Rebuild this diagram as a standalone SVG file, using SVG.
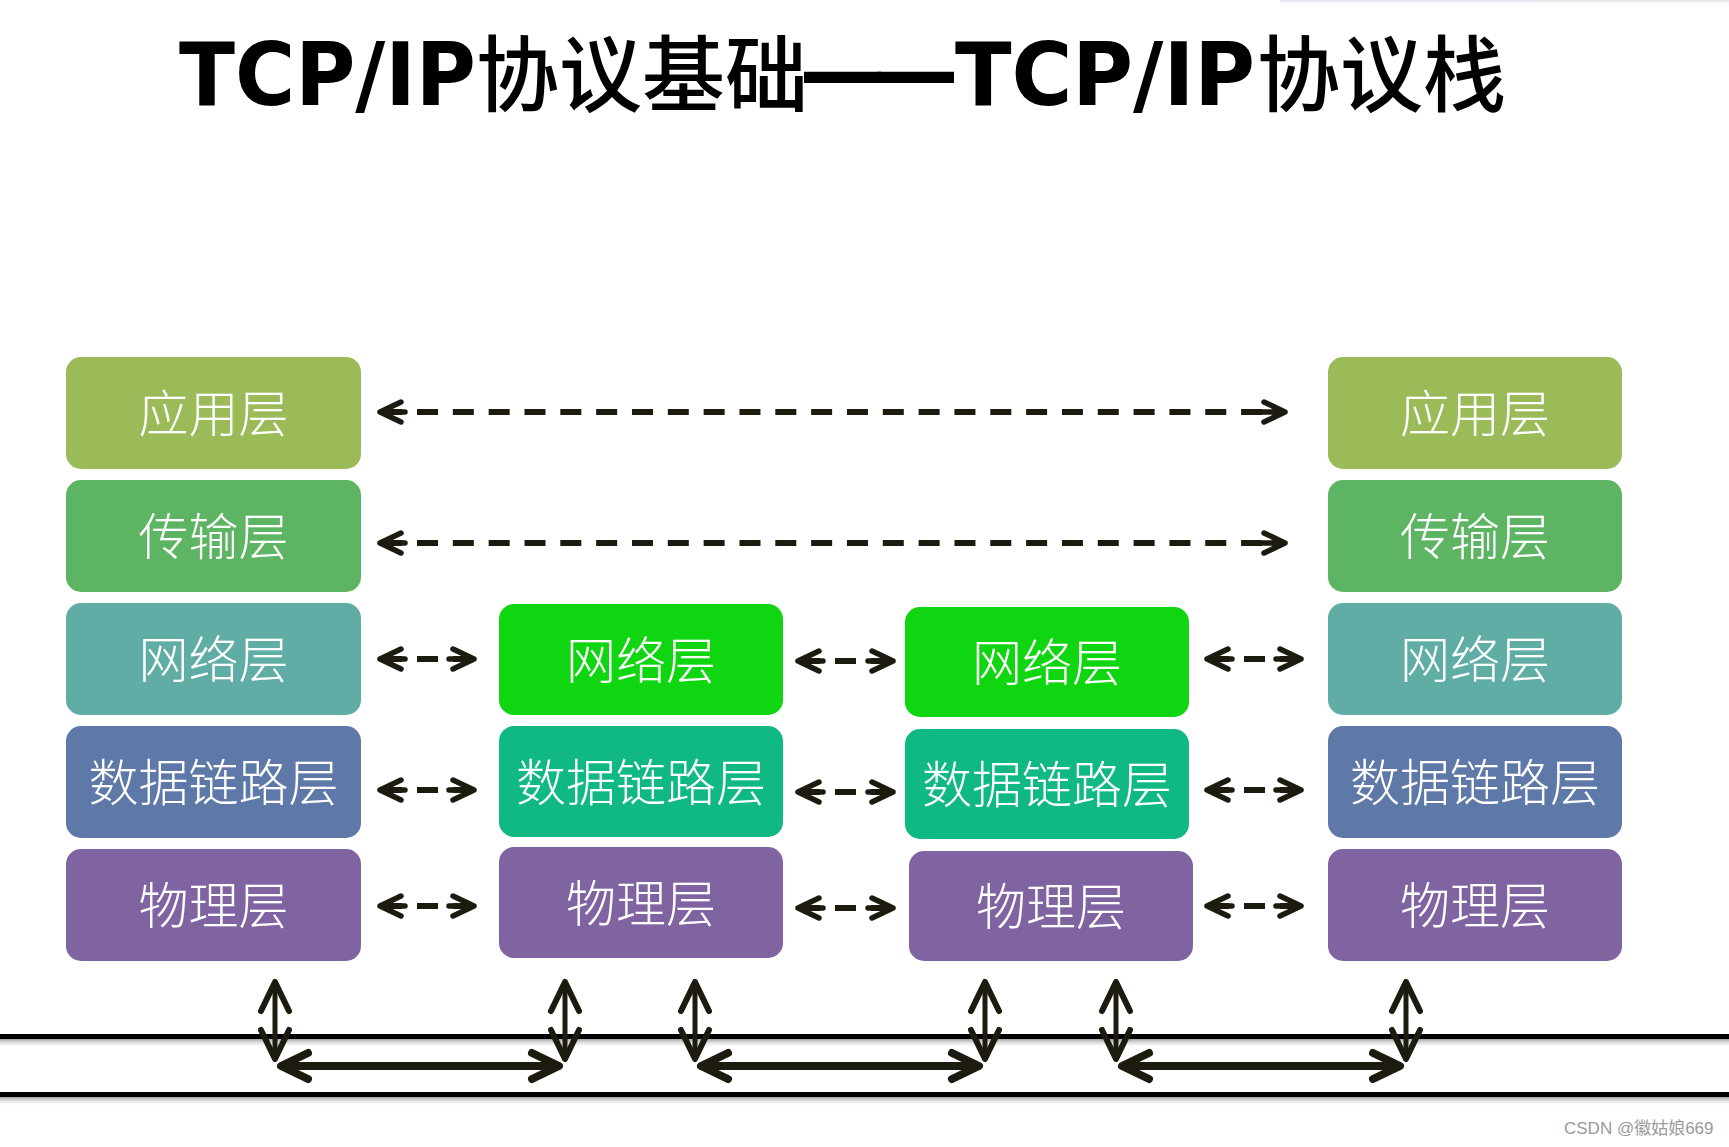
<svg xmlns="http://www.w3.org/2000/svg" width="1729" height="1147" viewBox="0 0 1729 1147">
<style>
  .box { stroke: none; }
  .lbl { fill: #ffffff; font-family: "Noto Sans CJK SC", "Noto Sans", sans-serif; font-size: 50px; font-weight: 300; text-anchor: middle; }
  .lat { font-family: "DejaVu Sans", "Liberation Sans", Verdana, sans-serif; font-weight: bold; font-size: 87px; fill: #000; }
  .cjk { font-family: "Noto Sans CJK SC", sans-serif; font-weight: 500; font-size: 83px; fill: #000; }
  .emd { font-family: "Liberation Sans", Arial, sans-serif; font-weight: bold; font-size: 73px; fill: #000; stroke: #000; stroke-width: 4; }
  .dash { stroke: #1d1a10; stroke-width: 6; fill: none; stroke-dasharray: 21 15; stroke-dashoffset: 35; marker-start: url(#chev); marker-end: url(#chev); }
  .dash.long { stroke-dasharray: 21 14.83; stroke-dashoffset: 34.66; }
  .vert { stroke: #1d1a10; stroke-width: 5; fill: none; marker-start: url(#chevV); marker-end: url(#chevV); }
  .horz { stroke: #1d1a10; stroke-width: 8; fill: none; marker-start: url(#chevH); marker-end: url(#chevH); }
  .bus { stroke: #000000; stroke-width: 5; }
  .wm { fill: #9a9a9a; font-family: "Liberation Sans", Arial, "Noto Sans CJK SC", sans-serif; font-size: 17px; }
</style>
<defs>
  <marker id="chev" markerUnits="userSpaceOnUse" markerWidth="40" markerHeight="30" refX="0" refY="0" orient="auto-start-reverse" overflow="visible">
    <path d="M-21,-10 L0,0 L-21,10 M0,0 H-25" fill="none" stroke="#1d1a10" stroke-width="5.5" stroke-linecap="round" stroke-linejoin="round"/>
  </marker>
  <marker id="chevV" markerUnits="userSpaceOnUse" markerWidth="40" markerHeight="40" refX="0" refY="0" orient="auto-start-reverse" overflow="visible">
    <path d="M-29,-14 L0,0 L-29,14" fill="none" stroke="#1d1a10" stroke-width="6" stroke-linecap="round" stroke-linejoin="round"/>
  </marker>
  <marker id="chevH" markerUnits="userSpaceOnUse" markerWidth="40" markerHeight="40" refX="0" refY="0" orient="auto-start-reverse" overflow="visible">
    <path d="M-27,-13 L0,0 L-27,13" fill="none" stroke="#1d1a10" stroke-width="8" stroke-linecap="round" stroke-linejoin="round"/>
  </marker>
  <linearGradient id="shadow" x1="0" y1="0" x2="0" y2="1">
    <stop offset="0" stop-color="#8a8a8a" stop-opacity="0.8"/>
    <stop offset="1" stop-color="#ffffff" stop-opacity="0"/>
  </linearGradient>
  <linearGradient id="topbar" x1="0" y1="0" x2="0" y2="1">
    <stop offset="0" stop-color="#dfe3ea" stop-opacity="1"/>
    <stop offset="1" stop-color="#ffffff" stop-opacity="0"/>
  </linearGradient>
</defs>

<rect x="0" y="0" width="1729" height="1147" fill="#ffffff"/>
<rect x="1280" y="0" width="449" height="6" fill="url(#topbar)"/>

<g id="title">
  <text class="lat" x="179" y="105" textLength="297" lengthAdjust="spacingAndGlyphs">TCP/IP</text>
  <text class="cjk" x="476" y="105">协议基础</text>
  <text class="emd" x="806" y="97">——</text>
  <text class="lat" x="955" y="105" textLength="300" lengthAdjust="spacingAndGlyphs">TCP/IP</text>
  <text class="cjk" x="1257" y="105">协议栈</text>
</g>

<!-- Column 1 -->
<g id="c1-app"><rect class="box" x="66" y="357" width="295" height="112" rx="15" fill="#9BBB59"/><text class="lbl" x="213.5" y="432">应用层</text></g>
<g id="c1-trans"><rect class="box" x="66" y="480" width="295" height="112" rx="15" fill="#5DB462"/><text class="lbl" x="213.5" y="555">传输层</text></g>
<g id="c1-net"><rect class="box" x="66" y="603" width="295" height="112" rx="15" fill="#5FADA5"/><text class="lbl" x="213.5" y="678">网络层</text></g>
<g id="c1-link"><rect class="box" x="66" y="726" width="295" height="112" rx="15" fill="#5E78A8"/><text class="lbl" x="213.5" y="801">数据链路层</text></g>
<g id="c1-phy"><rect class="box" x="66" y="849" width="295" height="112" rx="15" fill="#8064A2"/><text class="lbl" x="213.5" y="924">物理层</text></g>

<!-- Column 2 -->
<g id="c2-net"><rect class="box" x="499" y="604" width="284" height="111" rx="15" fill="#10D511"/><text class="lbl" x="641" y="678.5">网络层</text></g>
<g id="c2-link"><rect class="box" x="499" y="726" width="284" height="111" rx="15" fill="#10B983"/><text class="lbl" x="641" y="800.5">数据链路层</text></g>
<g id="c2-phy"><rect class="box" x="499" y="847" width="284" height="111" rx="15" fill="#8064A2"/><text class="lbl" x="641" y="921.5">物理层</text></g>

<!-- Column 3 -->
<g id="c3-net"><rect class="box" x="905" y="607" width="284" height="110" rx="15" fill="#10D511"/><text class="lbl" x="1047" y="681">网络层</text></g>
<g id="c3-link"><rect class="box" x="905" y="729" width="284" height="110" rx="15" fill="#10B983"/><text class="lbl" x="1047" y="803">数据链路层</text></g>
<g id="c3-phy"><rect class="box" x="909" y="851" width="284" height="110" rx="15" fill="#8064A2"/><text class="lbl" x="1051" y="925">物理层</text></g>

<!-- Column 4 -->
<g id="c4-app"><rect class="box" x="1328" y="357" width="294" height="112" rx="15" fill="#9BBB59"/><text class="lbl" x="1475" y="432">应用层</text></g>
<g id="c4-trans"><rect class="box" x="1328" y="480" width="294" height="112" rx="15" fill="#5DB462"/><text class="lbl" x="1475" y="555">传输层</text></g>
<g id="c4-net"><rect class="box" x="1328" y="603" width="294" height="112" rx="15" fill="#5FADA5"/><text class="lbl" x="1475" y="678">网络层</text></g>
<g id="c4-link"><rect class="box" x="1328" y="726" width="294" height="112" rx="15" fill="#5E78A8"/><text class="lbl" x="1475" y="801">数据链路层</text></g>
<g id="c4-phy"><rect class="box" x="1328" y="849" width="294" height="112" rx="15" fill="#8064A2"/><text class="lbl" x="1475" y="924">物理层</text></g>

<!-- Bus lines -->
<g id="bus">
  <rect x="0" y="1039" width="1729" height="9" fill="url(#shadow)"/>
  <rect x="0" y="1097" width="1729" height="9" fill="url(#shadow)"/>
  <line class="bus" x1="0" y1="1036.5" x2="1729" y2="1036.5"/>
  <line class="bus" x1="0" y1="1094.5" x2="1729" y2="1094.5"/>
</g>

<g id="connectors">
  <!-- peer dashed arrows -->
  <line class="dash long" x1="380" y1="412" x2="1285" y2="412"/>
  <line class="dash long" x1="380" y1="543" x2="1285" y2="543"/>

  <line class="dash" x1="380" y1="659" x2="474" y2="659"/>
  <line class="dash" x1="798" y1="661" x2="893" y2="661"/>
  <line class="dash" x1="1207" y1="659" x2="1301" y2="659"/>

  <line class="dash" x1="380" y1="790" x2="474" y2="790"/>
  <line class="dash" x1="798" y1="792" x2="893" y2="792"/>
  <line class="dash" x1="1207" y1="790" x2="1301" y2="790"/>

  <line class="dash" x1="380" y1="906" x2="474" y2="906"/>
  <line class="dash" x1="798" y1="908" x2="893" y2="908"/>
  <line class="dash" x1="1207" y1="906" x2="1301" y2="906"/>

  <!-- vertical physical links -->
  <line class="vert" x1="275" y1="982" x2="275" y2="1059"/>
  <line class="vert" x1="565" y1="982" x2="565" y2="1059"/>
  <line class="vert" x1="695" y1="982" x2="695" y2="1059"/>
  <line class="vert" x1="985" y1="982" x2="985" y2="1059"/>
  <line class="vert" x1="1116" y1="982" x2="1116" y2="1059"/>
  <line class="vert" x1="1406" y1="982" x2="1406" y2="1059"/>

  <!-- horizontal transfers -->
  <line class="horz" x1="281" y1="1066" x2="559" y2="1066"/>
  <line class="horz" x1="701" y1="1066" x2="979" y2="1066"/>
  <line class="horz" x1="1122" y1="1066" x2="1400" y2="1066"/>
</g>

<text class="wm" x="1564" y="1134">CSDN @徽姑娘669</text>
</svg>
